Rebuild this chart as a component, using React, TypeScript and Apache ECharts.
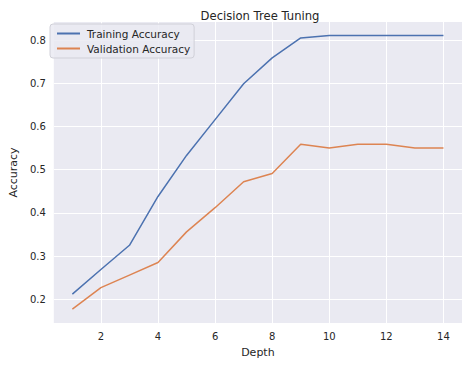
import React, { useEffect, useRef } from "react";
import * as echarts from "echarts";

const depths = [1, 2, 3, 4, 5, 6, 7, 8, 9, 10, 11, 12, 13, 14];
const trainingAccuracy = [0.212, 0.269, 0.325, 0.438, 0.533, 0.616, 0.699, 0.759, 0.805, 0.811, 0.811, 0.811, 0.811, 0.811];
const validationAccuracy = [0.177, 0.227, 0.256, 0.285, 0.356, 0.412, 0.472, 0.491, 0.559, 0.550, 0.559, 0.559, 0.550, 0.550];
const xTicks = [2, 4, 6, 8, 10, 12, 14];
const yTicks = [0.2, 0.3, 0.4, 0.5, 0.6, 0.7, 0.8];

const FONT = "DejaVu Sans";
const TEXT = "#262626";

export default function App() {
  const ref = useRef<HTMLDivElement>(null);
  useEffect(() => {
    const chart = echarts.init(ref.current!, null, { renderer: "svg" });
    chart.setOption({
      animation: false,
      backgroundColor: "#ffffff",
      title: {
        text: "Decision Tree Tuning",
        left: 255,
        top: 5,
        textAlign: "center",
        textStyle: { fontFamily: FONT, fontSize: 11.6, fontWeight: "normal", color: TEXT },
      },
      legend: {
        orient: "vertical",
        left: 50,
        top: 24,
        padding: [3, 4, 3, 7],
        itemGap: 2,
        itemWidth: 23,
        itemHeight: 2,
        icon: "rect",
        backgroundColor: "rgba(234,234,242,0.85)",
        borderColor: "#d0d0d8",
        borderWidth: 1,
        borderRadius: 3,
        textStyle: { fontFamily: FONT, fontSize: 10.5, color: TEXT, padding: [0, 0, 0, 2], lineHeight: 13 },
        data: ["Training Accuracy", "Validation Accuracy"],
      },
      grid: { left: 48, right: 12, top: 22, bottom: 42, backgroundColor: "#eaeaf2", show: true, borderWidth: 0 },
      xAxis: {
        type: "value",
        min: 0.35,
        max: 14.65,
        name: "Depth",
        nameLocation: "middle",
        nameGap: 24,
        nameTextStyle: { fontFamily: FONT, fontSize: 11, color: TEXT },
        axisLine: { show: false },
        axisTick: { show: false, customValues: xTicks },
        axisLabel: { customValues: xTicks, fontFamily: FONT, fontSize: 10, color: TEXT, margin: 8 },
        splitLine: { show: true, lineStyle: { color: "#ffffff", width: 1 } },
      },
      yAxis: {
        type: "value",
        min: 0.145,
        max: 0.842,
        name: "Accuracy",
        nameLocation: "middle",
        nameGap: 33,
        nameTextStyle: { fontFamily: FONT, fontSize: 11, color: TEXT },
        axisLine: { show: false },
        axisTick: { show: false, customValues: yTicks },
        axisLabel: {
          customValues: yTicks,
          fontFamily: FONT,
          fontSize: 10,
          color: TEXT,
          margin: 8,
          formatter: (v: number) => v.toFixed(1),
        },
        splitLine: { show: true, lineStyle: { color: "#ffffff", width: 1 } },
      },
      series: [
        {
          name: "Training Accuracy",
          type: "line",
          data: depths.map((d, i) => [d, trainingAccuracy[i]]),
          symbol: "none",
          lineStyle: { color: "#4c72b0", width: 1.5 },
          itemStyle: { color: "#4c72b0" },
        },
        {
          name: "Validation Accuracy",
          type: "line",
          data: depths.map((d, i) => [d, validationAccuracy[i]]),
          symbol: "none",
          lineStyle: { color: "#dd8452", width: 1.5 },
          itemStyle: { color: "#dd8452" },
        },
      ],
    });
    return () => chart.dispose();
  }, []);
  return <div ref={ref} style={{ position: "fixed", left: 0, top: 0, width: 474, height: 365 }} />;
}
